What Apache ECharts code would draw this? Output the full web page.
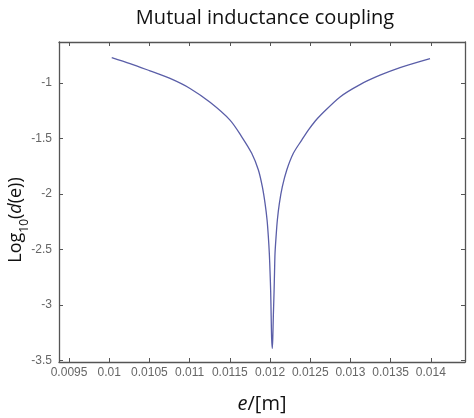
<!DOCTYPE html>
<html>
<head>
    <meta charset="UTF-8">
    <title>Mutual inductance coupling</title>
    <script src="https://cdn.jsdelivr.net/npm/echarts@6/dist/echarts.min.js"></script>
    <style>
        html, body {margin: 0; padding: 0; background: #fff;}
        #main {width: 474px; height: 418px;}
    </style>
</head>
<body>
<div id="main"></div>
<script>
    // values
    var eValues = [
        0.010031, 0.010259, 0.010507, 0.010756, 0.011005, 0.011254, 0.011502, 0.011648,
        0.011772, 0.011855, 0.011904, 0.011938, 0.011963, 0.011979, 0.011991, 0.012000,
        0.012008, 0.012014, 0.012020, 0.012028,
        0.012034, 0.012041, 0.012050, 0.012056, 0.012062, 0.012075, 0.012091, 0.012116,
        0.012153, 0.012208, 0.012290, 0.012394, 0.012476, 0.012560, 0.012622, 0.012871,
        0.013119, 0.013368, 0.013617, 0.013990
    ];
    var logD = [
        -0.772, -0.826, -0.892, -0.960, -1.050, -1.175, -1.335, -1.485,
        -1.634, -1.784, -1.934, -2.084, -2.234, -2.384, -2.533, -2.700,
        -2.880, -3.100, -3.300, -3.390,
        -3.300, -3.100, -2.880, -2.700, -2.533, -2.384, -2.234, -2.084,
        -1.934, -1.784, -1.634, -1.515, -1.425, -1.345, -1.295, -1.126,
        -1.015, -0.931, -0.862, -0.781
    ];
    var xTicks = [0.0095, 0.01, 0.0105, 0.011, 0.0115, 0.012, 0.0125, 0.013, 0.0135, 0.014];
    var yTicks = [-3.5, -3, -2.5, -2, -1.5, -1];

    var points = eValues.map(function (e, i) {
        return [e, logD[i]];
    });

    var xMin = 0.009375, xMax = 0.014425;
    var yMin = -3.512, yMax = -0.632;
    var boxColor = '#555';

    function xAxisOf(pos, showLabel) {
        return {
            type: 'value', position: pos, min: xMin, max: xMax,
            axisLine: {show: true, onZero: false, lineStyle: {color: boxColor, width: 1.3}},
            axisTick: {show: true, inside: true, length: 4, customValues: xTicks,
                lineStyle: {color: boxColor}},
            axisLabel: {show: showLabel, customValues: xTicks, margin: 5,
                color: '#666', fontSize: 12, fontFamily: 'Liberation Sans',
                formatter: function (v) { return String(+v.toFixed(5)); }},
            splitLine: {show: false}
        };
    }

    function yAxisOf(pos, showLabel) {
        return {
            type: 'value', position: pos, min: yMin, max: yMax,
            axisLine: {show: true, onZero: false, lineStyle: {color: boxColor, width: 1.3}},
            axisTick: {show: true, inside: true, length: 4, customValues: yTicks,
                lineStyle: {color: boxColor}},
            axisLabel: {show: showLabel, customValues: yTicks, margin: 7,
                color: '#666', fontSize: 12, fontFamily: 'Liberation Sans',
                formatter: function (v) { return String(v); }},
            splitLine: {show: false}
        };
    }

    var xBottom = xAxisOf('bottom', true);
    xBottom.name = '{i|e}/[m]';
    xBottom.nameLocation = 'middle';
    xBottom.nameGap = 32;
    xBottom.nameMoveOverlap = false;
    xBottom.nameTextStyle = {
        color: '#111', fontSize: 20, fontFamily: 'Open Sans',
        rich: {i: {fontStyle: 'italic', fontSize: 20, fontFamily: 'Open Sans', color: '#111'}}
    };

    var yLeft = yAxisOf('left', true);
    yLeft.name = '{n|Log}{s|10}{n|(}{i|d}{n|(e))}';
    yLeft.nameLocation = 'middle';
    yLeft.nameGap = 32;
    yLeft.nameMoveOverlap = false;
    yLeft.nameRotate = 90;
    yLeft.nameTextStyle = {
        padding: [0, 36, 0, 0],
        rich: {
            n: {fontSize: 18, fontFamily: 'Open Sans', color: '#111', lineHeight: 22},
            i: {fontSize: 18, fontFamily: 'Open Sans', fontStyle: 'italic', color: '#111', lineHeight: 22},
            s: {fontSize: 12, fontFamily: 'Open Sans', color: '#111', lineHeight: 22, verticalAlign: 'bottom', padding: [0, 0, -4, 0]}
        }
    };

    var myChart = echarts.init(document.getElementById('main'));
    myChart.setOption({
        animation: false,
        backgroundColor: '#fff',
        title: {
            text: 'Mutual inductance coupling',
            left: 260,
            textAlign: 'center',
            top: 3,
            textStyle: {color: '#111', fontSize: 20, fontWeight: 'normal', fontFamily: 'Open Sans'}
        },
        grid: {left: 59, right: 9, top: 42, bottom: 56, outerBoundsMode: 'none'},
        xAxis: [xBottom, xAxisOf('top', false)],
        yAxis: [yLeft, yAxisOf('right', false)],
        series: [{
            type: 'line',
            xAxisIndex: 0,
            yAxisIndex: 0,
            data: points,
            symbol: 'none',
            smooth: 0.3,
            lineStyle: {color: '#5a5ea8', width: 1.3}
        }]
    });
</script>
</body>
</html>
